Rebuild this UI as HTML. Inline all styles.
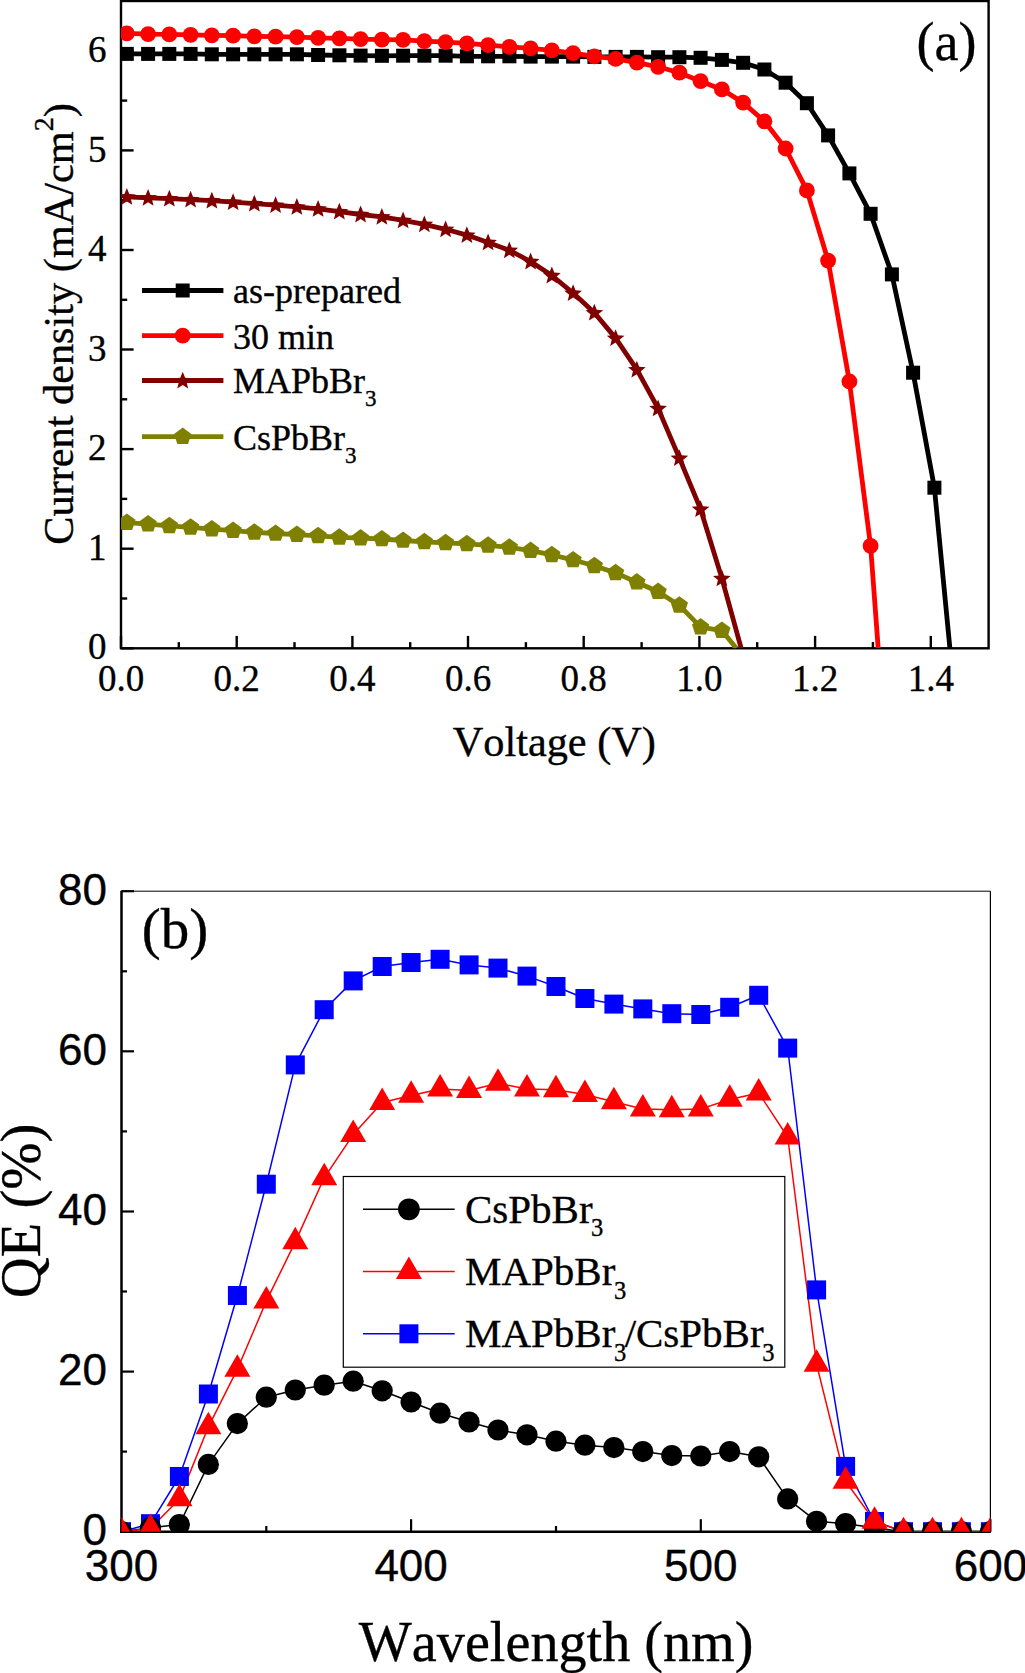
<!DOCTYPE html>
<html><head><meta charset="utf-8"><title>Figure</title>
<style>
html,body{margin:0;padding:0;background:#fff;}
body{width:1025px;height:1673px;position:relative;overflow:hidden;font-family:"Liberation Serif",serif;}
text{font-kerning:none;stroke:#000;stroke-width:0.35px;}
</style></head><body>
<svg width="1025" height="1673" viewBox="0 0 1025 1673" style="position:absolute;left:0;top:0">
<defs><clipPath id="ca"><rect x="121.0" y="1.0" width="867.6" height="647.3"/></clipPath>
<clipPath id="cb"><rect x="121.5" y="891.2" width="869" height="640.5"/></clipPath></defs>
<line x1="121.0" y1="648.3" x2="121.0" y2="635.9" stroke="#000" stroke-width="2.4"/>
<line x1="178.8" y1="648.3" x2="178.8" y2="642.1" stroke="#000" stroke-width="2.4"/>
<line x1="236.7" y1="648.3" x2="236.7" y2="635.9" stroke="#000" stroke-width="2.4"/>
<line x1="294.5" y1="648.3" x2="294.5" y2="642.1" stroke="#000" stroke-width="2.4"/>
<line x1="352.4" y1="648.3" x2="352.4" y2="635.9" stroke="#000" stroke-width="2.4"/>
<line x1="410.2" y1="648.3" x2="410.2" y2="642.1" stroke="#000" stroke-width="2.4"/>
<line x1="468.0" y1="648.3" x2="468.0" y2="635.9" stroke="#000" stroke-width="2.4"/>
<line x1="525.9" y1="648.3" x2="525.9" y2="642.1" stroke="#000" stroke-width="2.4"/>
<line x1="583.7" y1="648.3" x2="583.7" y2="635.9" stroke="#000" stroke-width="2.4"/>
<line x1="641.6" y1="648.3" x2="641.6" y2="642.1" stroke="#000" stroke-width="2.4"/>
<line x1="699.4" y1="648.3" x2="699.4" y2="635.9" stroke="#000" stroke-width="2.4"/>
<line x1="757.2" y1="648.3" x2="757.2" y2="642.1" stroke="#000" stroke-width="2.4"/>
<line x1="815.1" y1="648.3" x2="815.1" y2="635.9" stroke="#000" stroke-width="2.4"/>
<line x1="872.9" y1="648.3" x2="872.9" y2="642.1" stroke="#000" stroke-width="2.4"/>
<line x1="930.8" y1="648.3" x2="930.8" y2="635.9" stroke="#000" stroke-width="2.4"/>
<line x1="121.0" y1="648.3" x2="133.6" y2="648.3" stroke="#000" stroke-width="2.4"/>
<line x1="121.0" y1="598.5" x2="127.2" y2="598.5" stroke="#000" stroke-width="2.4"/>
<line x1="121.0" y1="548.7" x2="133.6" y2="548.7" stroke="#000" stroke-width="2.4"/>
<line x1="121.0" y1="498.9" x2="127.2" y2="498.9" stroke="#000" stroke-width="2.4"/>
<line x1="121.0" y1="449.1" x2="133.6" y2="449.1" stroke="#000" stroke-width="2.4"/>
<line x1="121.0" y1="399.3" x2="127.2" y2="399.3" stroke="#000" stroke-width="2.4"/>
<line x1="121.0" y1="349.5" x2="133.6" y2="349.5" stroke="#000" stroke-width="2.4"/>
<line x1="121.0" y1="299.8" x2="127.2" y2="299.8" stroke="#000" stroke-width="2.4"/>
<line x1="121.0" y1="250.0" x2="133.6" y2="250.0" stroke="#000" stroke-width="2.4"/>
<line x1="121.0" y1="200.2" x2="127.2" y2="200.2" stroke="#000" stroke-width="2.4"/>
<line x1="121.0" y1="150.4" x2="133.6" y2="150.4" stroke="#000" stroke-width="2.4"/>
<line x1="121.0" y1="100.6" x2="127.2" y2="100.6" stroke="#000" stroke-width="2.4"/>
<line x1="121.0" y1="50.8" x2="133.6" y2="50.8" stroke="#000" stroke-width="2.4"/>
<rect x="121.0" y="1.0" width="867.6" height="647.3" fill="none" stroke="#000" stroke-width="2.4"/>
<g clip-path="url(#ca)">
<polyline points="126.8,53.9 148.1,53.9 169.3,53.9 190.6,53.9 211.8,54.3 233.1,54.3 254.3,54.3 275.6,54.3 296.9,54.3 318.1,55.0 339.4,55.3 360.6,55.6 381.9,55.8 403.1,55.7 424.4,55.7 445.6,55.7 466.9,56.3 488.1,56.3 509.4,56.3 530.6,56.6 551.9,56.6 573.1,56.6 594.4,56.9 615.6,56.9 636.9,56.9 658.1,57.2 679.4,57.2 700.6,57.8 721.9,59.9 743.1,62.8 764.4,69.5 785.6,82.7 806.9,103.2 828.1,135.4 849.4,173.4 870.6,213.8 891.9,274.4 913.1,372.7 934.4,487.7 949.9,648.3" fill="none" stroke="#000" stroke-width="4.8" stroke-linejoin="round"/>
<rect x="119.8" y="46.9" width="14.0" height="14.0" fill="#000"/>
<rect x="141.1" y="46.9" width="14.0" height="14.0" fill="#000"/>
<rect x="162.3" y="46.9" width="14.0" height="14.0" fill="#000"/>
<rect x="183.6" y="46.9" width="14.0" height="14.0" fill="#000"/>
<rect x="204.8" y="47.3" width="14.0" height="14.0" fill="#000"/>
<rect x="226.1" y="47.3" width="14.0" height="14.0" fill="#000"/>
<rect x="247.3" y="47.3" width="14.0" height="14.0" fill="#000"/>
<rect x="268.6" y="47.3" width="14.0" height="14.0" fill="#000"/>
<rect x="289.9" y="47.3" width="14.0" height="14.0" fill="#000"/>
<rect x="311.1" y="48.0" width="14.0" height="14.0" fill="#000"/>
<rect x="332.4" y="48.3" width="14.0" height="14.0" fill="#000"/>
<rect x="353.6" y="48.6" width="14.0" height="14.0" fill="#000"/>
<rect x="374.9" y="48.8" width="14.0" height="14.0" fill="#000"/>
<rect x="396.1" y="48.7" width="14.0" height="14.0" fill="#000"/>
<rect x="417.4" y="48.7" width="14.0" height="14.0" fill="#000"/>
<rect x="438.6" y="48.7" width="14.0" height="14.0" fill="#000"/>
<rect x="459.9" y="49.3" width="14.0" height="14.0" fill="#000"/>
<rect x="481.1" y="49.3" width="14.0" height="14.0" fill="#000"/>
<rect x="502.4" y="49.3" width="14.0" height="14.0" fill="#000"/>
<rect x="523.6" y="49.6" width="14.0" height="14.0" fill="#000"/>
<rect x="544.9" y="49.6" width="14.0" height="14.0" fill="#000"/>
<rect x="566.1" y="49.6" width="14.0" height="14.0" fill="#000"/>
<rect x="587.4" y="49.9" width="14.0" height="14.0" fill="#000"/>
<rect x="608.6" y="49.9" width="14.0" height="14.0" fill="#000"/>
<rect x="629.9" y="49.9" width="14.0" height="14.0" fill="#000"/>
<rect x="651.1" y="50.2" width="14.0" height="14.0" fill="#000"/>
<rect x="672.4" y="50.2" width="14.0" height="14.0" fill="#000"/>
<rect x="693.6" y="50.8" width="14.0" height="14.0" fill="#000"/>
<rect x="714.9" y="52.9" width="14.0" height="14.0" fill="#000"/>
<rect x="736.1" y="55.8" width="14.0" height="14.0" fill="#000"/>
<rect x="757.4" y="62.5" width="14.0" height="14.0" fill="#000"/>
<rect x="778.6" y="75.7" width="14.0" height="14.0" fill="#000"/>
<rect x="799.9" y="96.2" width="14.0" height="14.0" fill="#000"/>
<rect x="821.1" y="128.4" width="14.0" height="14.0" fill="#000"/>
<rect x="842.4" y="166.4" width="14.0" height="14.0" fill="#000"/>
<rect x="863.6" y="206.8" width="14.0" height="14.0" fill="#000"/>
<rect x="884.9" y="267.4" width="14.0" height="14.0" fill="#000"/>
<rect x="906.1" y="365.7" width="14.0" height="14.0" fill="#000"/>
<rect x="927.4" y="480.7" width="14.0" height="14.0" fill="#000"/>
<polyline points="126.8,33.4 148.1,34.2 169.3,34.4 190.6,34.8 211.8,35.3 233.1,35.7 254.3,36.3 275.6,36.7 296.9,37.1 318.1,37.9 339.4,38.3 360.6,39.1 381.9,39.6 403.1,39.9 424.4,41.1 445.6,42.2 466.9,43.4 488.1,45.2 509.4,46.9 530.6,48.4 551.9,50.4 573.1,53.1 594.4,56.3 615.6,58.9 636.9,62.7 658.1,66.8 679.4,72.7 700.6,81.2 721.9,89.4 743.1,102.6 764.4,121.3 785.6,148.5 806.9,190.4 828.1,260.6 849.4,381.5 870.6,545.9 878.2,648.3" fill="none" stroke="#ff0000" stroke-width="4.8" stroke-linejoin="round"/>
<circle cx="126.8" cy="33.4" r="7.9" fill="#ff0000"/>
<circle cx="148.1" cy="34.2" r="7.9" fill="#ff0000"/>
<circle cx="169.3" cy="34.4" r="7.9" fill="#ff0000"/>
<circle cx="190.6" cy="34.8" r="7.9" fill="#ff0000"/>
<circle cx="211.8" cy="35.3" r="7.9" fill="#ff0000"/>
<circle cx="233.1" cy="35.7" r="7.9" fill="#ff0000"/>
<circle cx="254.3" cy="36.3" r="7.9" fill="#ff0000"/>
<circle cx="275.6" cy="36.7" r="7.9" fill="#ff0000"/>
<circle cx="296.9" cy="37.1" r="7.9" fill="#ff0000"/>
<circle cx="318.1" cy="37.9" r="7.9" fill="#ff0000"/>
<circle cx="339.4" cy="38.3" r="7.9" fill="#ff0000"/>
<circle cx="360.6" cy="39.1" r="7.9" fill="#ff0000"/>
<circle cx="381.9" cy="39.6" r="7.9" fill="#ff0000"/>
<circle cx="403.1" cy="39.9" r="7.9" fill="#ff0000"/>
<circle cx="424.4" cy="41.1" r="7.9" fill="#ff0000"/>
<circle cx="445.6" cy="42.2" r="7.9" fill="#ff0000"/>
<circle cx="466.9" cy="43.4" r="7.9" fill="#ff0000"/>
<circle cx="488.1" cy="45.2" r="7.9" fill="#ff0000"/>
<circle cx="509.4" cy="46.9" r="7.9" fill="#ff0000"/>
<circle cx="530.6" cy="48.4" r="7.9" fill="#ff0000"/>
<circle cx="551.9" cy="50.4" r="7.9" fill="#ff0000"/>
<circle cx="573.1" cy="53.1" r="7.9" fill="#ff0000"/>
<circle cx="594.4" cy="56.3" r="7.9" fill="#ff0000"/>
<circle cx="615.6" cy="58.9" r="7.9" fill="#ff0000"/>
<circle cx="636.9" cy="62.7" r="7.9" fill="#ff0000"/>
<circle cx="658.1" cy="66.8" r="7.9" fill="#ff0000"/>
<circle cx="679.4" cy="72.7" r="7.9" fill="#ff0000"/>
<circle cx="700.6" cy="81.2" r="7.9" fill="#ff0000"/>
<circle cx="721.9" cy="89.4" r="7.9" fill="#ff0000"/>
<circle cx="743.1" cy="102.6" r="7.9" fill="#ff0000"/>
<circle cx="764.4" cy="121.3" r="7.9" fill="#ff0000"/>
<circle cx="785.6" cy="148.5" r="7.9" fill="#ff0000"/>
<circle cx="806.9" cy="190.4" r="7.9" fill="#ff0000"/>
<circle cx="828.1" cy="260.6" r="7.9" fill="#ff0000"/>
<circle cx="849.4" cy="381.5" r="7.9" fill="#ff0000"/>
<circle cx="870.6" cy="545.9" r="7.9" fill="#ff0000"/>
<polyline points="126.8,196.9 148.1,197.8 169.3,198.7 190.6,199.6 211.8,200.7 233.1,202.2 254.3,203.7 275.6,205.1 296.9,206.9 318.1,208.9 339.4,211.6 360.6,214.5 381.9,216.8 403.1,220.4 424.4,224.3 445.6,229.3 466.9,235.1 488.1,242.4 509.4,250.3 530.6,261.5 551.9,275.5 573.1,293.1 594.4,312.7 615.6,338.1 636.9,369.7 658.1,408.4 679.4,458.1 700.6,509.2 721.9,578.4 741.2,648.3" fill="none" stroke="#800000" stroke-width="4.8" stroke-linejoin="round"/>
<path d="M126.85,188.00 L129.26,193.98 L135.69,194.43 L130.75,198.57 L132.32,204.82 L126.85,201.40 L121.38,204.82 L122.95,198.57 L118.01,194.43 L124.44,193.98Z" fill="#800000"/>
<path d="M148.10,188.90 L150.51,194.88 L156.94,195.33 L152.00,199.47 L153.57,205.72 L148.10,202.30 L142.63,205.72 L144.20,199.47 L139.26,195.33 L145.69,194.88Z" fill="#800000"/>
<path d="M169.35,189.80 L171.76,195.78 L178.19,196.23 L173.25,200.37 L174.82,206.62 L169.35,203.20 L163.88,206.62 L165.45,200.37 L160.51,196.23 L166.94,195.78Z" fill="#800000"/>
<path d="M190.60,190.70 L193.01,196.68 L199.44,197.13 L194.50,201.27 L196.07,207.52 L190.60,204.10 L185.13,207.52 L186.70,201.27 L181.76,197.13 L188.19,196.68Z" fill="#800000"/>
<path d="M211.85,191.80 L214.26,197.78 L220.69,198.23 L215.75,202.37 L217.32,208.62 L211.85,205.20 L206.38,208.62 L207.95,202.37 L203.01,198.23 L209.44,197.78Z" fill="#800000"/>
<path d="M233.10,193.30 L235.51,199.28 L241.94,199.73 L237.00,203.87 L238.57,210.12 L233.10,206.70 L227.63,210.12 L229.20,203.87 L224.26,199.73 L230.69,199.28Z" fill="#800000"/>
<path d="M254.35,194.80 L256.76,200.78 L263.19,201.23 L258.25,205.37 L259.82,211.62 L254.35,208.20 L248.88,211.62 L250.45,205.37 L245.51,201.23 L251.94,200.78Z" fill="#800000"/>
<path d="M275.60,196.20 L278.01,202.18 L284.44,202.63 L279.50,206.77 L281.07,213.02 L275.60,209.60 L270.13,213.02 L271.70,206.77 L266.76,202.63 L273.19,202.18Z" fill="#800000"/>
<path d="M296.85,198.00 L299.26,203.98 L305.69,204.43 L300.75,208.57 L302.32,214.82 L296.85,211.40 L291.38,214.82 L292.95,208.57 L288.01,204.43 L294.44,203.98Z" fill="#800000"/>
<path d="M318.10,200.00 L320.51,205.98 L326.94,206.43 L322.00,210.57 L323.57,216.82 L318.10,213.40 L312.63,216.82 L314.20,210.57 L309.26,206.43 L315.69,205.98Z" fill="#800000"/>
<path d="M339.35,202.70 L341.76,208.68 L348.19,209.13 L343.25,213.27 L344.82,219.52 L339.35,216.10 L333.88,219.52 L335.45,213.27 L330.51,209.13 L336.94,208.68Z" fill="#800000"/>
<path d="M360.60,205.60 L363.01,211.58 L369.44,212.03 L364.50,216.17 L366.07,222.42 L360.60,219.00 L355.13,222.42 L356.70,216.17 L351.76,212.03 L358.19,211.58Z" fill="#800000"/>
<path d="M381.85,207.90 L384.26,213.88 L390.69,214.33 L385.75,218.47 L387.32,224.72 L381.85,221.30 L376.38,224.72 L377.95,218.47 L373.01,214.33 L379.44,213.88Z" fill="#800000"/>
<path d="M403.10,211.50 L405.51,217.48 L411.94,217.93 L407.00,222.07 L408.57,228.32 L403.10,224.90 L397.63,228.32 L399.20,222.07 L394.26,217.93 L400.69,217.48Z" fill="#800000"/>
<path d="M424.35,215.40 L426.76,221.38 L433.19,221.83 L428.25,225.97 L429.82,232.22 L424.35,228.80 L418.88,232.22 L420.45,225.97 L415.51,221.83 L421.94,221.38Z" fill="#800000"/>
<path d="M445.60,220.40 L448.01,226.38 L454.44,226.83 L449.50,230.97 L451.07,237.22 L445.60,233.80 L440.13,237.22 L441.70,230.97 L436.76,226.83 L443.19,226.38Z" fill="#800000"/>
<path d="M466.85,226.20 L469.26,232.18 L475.69,232.63 L470.75,236.77 L472.32,243.02 L466.85,239.60 L461.38,243.02 L462.95,236.77 L458.01,232.63 L464.44,232.18Z" fill="#800000"/>
<path d="M488.10,233.50 L490.51,239.48 L496.94,239.93 L492.00,244.07 L493.57,250.32 L488.10,246.90 L482.63,250.32 L484.20,244.07 L479.26,239.93 L485.69,239.48Z" fill="#800000"/>
<path d="M509.35,241.40 L511.76,247.38 L518.19,247.83 L513.25,251.97 L514.82,258.22 L509.35,254.80 L503.88,258.22 L505.45,251.97 L500.51,247.83 L506.94,247.38Z" fill="#800000"/>
<path d="M530.60,252.60 L533.01,258.58 L539.44,259.03 L534.50,263.17 L536.07,269.42 L530.60,266.00 L525.13,269.42 L526.70,263.17 L521.76,259.03 L528.19,258.58Z" fill="#800000"/>
<path d="M551.85,266.60 L554.26,272.58 L560.69,273.03 L555.75,277.17 L557.32,283.42 L551.85,280.00 L546.38,283.42 L547.95,277.17 L543.01,273.03 L549.44,272.58Z" fill="#800000"/>
<path d="M573.10,284.20 L575.51,290.18 L581.94,290.63 L577.00,294.77 L578.57,301.02 L573.10,297.60 L567.63,301.02 L569.20,294.77 L564.26,290.63 L570.69,290.18Z" fill="#800000"/>
<path d="M594.35,303.80 L596.76,309.78 L603.19,310.23 L598.25,314.37 L599.82,320.62 L594.35,317.20 L588.88,320.62 L590.45,314.37 L585.51,310.23 L591.94,309.78Z" fill="#800000"/>
<path d="M615.60,329.20 L618.01,335.18 L624.44,335.63 L619.50,339.77 L621.07,346.02 L615.60,342.60 L610.13,346.02 L611.70,339.77 L606.76,335.63 L613.19,335.18Z" fill="#800000"/>
<path d="M636.85,360.80 L639.26,366.78 L645.69,367.23 L640.75,371.37 L642.32,377.62 L636.85,374.20 L631.38,377.62 L632.95,371.37 L628.01,367.23 L634.44,366.78Z" fill="#800000"/>
<path d="M658.10,399.50 L660.51,405.48 L666.94,405.93 L662.00,410.07 L663.57,416.32 L658.10,412.90 L652.63,416.32 L654.20,410.07 L649.26,405.93 L655.69,405.48Z" fill="#800000"/>
<path d="M679.35,449.20 L681.76,455.18 L688.19,455.63 L683.25,459.77 L684.82,466.02 L679.35,462.60 L673.88,466.02 L675.45,459.77 L670.51,455.63 L676.94,455.18Z" fill="#800000"/>
<path d="M700.60,500.30 L703.01,506.28 L709.44,506.73 L704.50,510.87 L706.07,517.12 L700.60,513.70 L695.13,517.12 L696.70,510.87 L691.76,506.73 L698.19,506.28Z" fill="#800000"/>
<path d="M721.85,569.50 L724.26,575.48 L730.69,575.93 L725.75,580.07 L727.32,586.32 L721.85,582.90 L716.38,586.32 L717.95,580.07 L713.01,575.93 L719.44,575.48Z" fill="#800000"/>
<polyline points="126.8,522.6 148.1,524.1 169.3,525.9 190.6,527.3 211.8,529.1 233.1,530.6 254.3,532.3 275.6,533.5 296.9,534.6 318.1,535.8 339.4,537.3 360.6,538.2 381.9,539.0 403.1,540.5 424.4,541.9 445.6,542.9 466.9,543.9 488.1,545.3 509.4,547.3 530.6,550.7 551.9,554.8 573.1,560.0 594.4,565.8 615.6,572.9 636.9,582.2 658.1,591.7 679.4,605.4 700.6,627.2 721.9,630.6 736.3,648.3" fill="none" stroke="#808000" stroke-width="4.8" stroke-linejoin="round"/>
<path d="M126.85,513.50 L135.50,519.79 L132.20,529.96 L121.50,529.96 L118.20,519.79Z" fill="#808000"/>
<path d="M148.10,515.00 L156.75,521.29 L153.45,531.46 L142.75,531.46 L139.45,521.29Z" fill="#808000"/>
<path d="M169.35,516.80 L178.00,523.09 L174.70,533.26 L164.00,533.26 L160.70,523.09Z" fill="#808000"/>
<path d="M190.60,518.20 L199.25,524.49 L195.95,534.66 L185.25,534.66 L181.95,524.49Z" fill="#808000"/>
<path d="M211.85,520.00 L220.50,526.29 L217.20,536.46 L206.50,536.46 L203.20,526.29Z" fill="#808000"/>
<path d="M233.10,521.50 L241.75,527.79 L238.45,537.96 L227.75,537.96 L224.45,527.79Z" fill="#808000"/>
<path d="M254.35,523.20 L263.00,529.49 L259.70,539.66 L249.00,539.66 L245.70,529.49Z" fill="#808000"/>
<path d="M275.60,524.40 L284.25,530.69 L280.95,540.86 L270.25,540.86 L266.95,530.69Z" fill="#808000"/>
<path d="M296.85,525.50 L305.50,531.79 L302.20,541.96 L291.50,541.96 L288.20,531.79Z" fill="#808000"/>
<path d="M318.10,526.70 L326.75,532.99 L323.45,543.16 L312.75,543.16 L309.45,532.99Z" fill="#808000"/>
<path d="M339.35,528.20 L348.00,534.49 L344.70,544.66 L334.00,544.66 L330.70,534.49Z" fill="#808000"/>
<path d="M360.60,529.10 L369.25,535.39 L365.95,545.56 L355.25,545.56 L351.95,535.39Z" fill="#808000"/>
<path d="M381.85,529.90 L390.50,536.19 L387.20,546.36 L376.50,546.36 L373.20,536.19Z" fill="#808000"/>
<path d="M403.10,531.40 L411.75,537.69 L408.45,547.86 L397.75,547.86 L394.45,537.69Z" fill="#808000"/>
<path d="M424.35,532.80 L433.00,539.09 L429.70,549.26 L419.00,549.26 L415.70,539.09Z" fill="#808000"/>
<path d="M445.60,533.80 L454.25,540.09 L450.95,550.26 L440.25,550.26 L436.95,540.09Z" fill="#808000"/>
<path d="M466.85,534.80 L475.50,541.09 L472.20,551.26 L461.50,551.26 L458.20,541.09Z" fill="#808000"/>
<path d="M488.10,536.20 L496.75,542.49 L493.45,552.66 L482.75,552.66 L479.45,542.49Z" fill="#808000"/>
<path d="M509.35,538.20 L518.00,544.49 L514.70,554.66 L504.00,554.66 L500.70,544.49Z" fill="#808000"/>
<path d="M530.60,541.60 L539.25,547.89 L535.95,558.06 L525.25,558.06 L521.95,547.89Z" fill="#808000"/>
<path d="M551.85,545.70 L560.50,551.99 L557.20,562.16 L546.50,562.16 L543.20,551.99Z" fill="#808000"/>
<path d="M573.10,550.90 L581.75,557.19 L578.45,567.36 L567.75,567.36 L564.45,557.19Z" fill="#808000"/>
<path d="M594.35,556.70 L603.00,562.99 L599.70,573.16 L589.00,573.16 L585.70,562.99Z" fill="#808000"/>
<path d="M615.60,563.80 L624.25,570.09 L620.95,580.26 L610.25,580.26 L606.95,570.09Z" fill="#808000"/>
<path d="M636.85,573.10 L645.50,579.39 L642.20,589.56 L631.50,589.56 L628.20,579.39Z" fill="#808000"/>
<path d="M658.10,582.60 L666.75,588.89 L663.45,599.06 L652.75,599.06 L649.45,588.89Z" fill="#808000"/>
<path d="M679.35,596.30 L688.00,602.59 L684.70,612.76 L674.00,612.76 L670.70,602.59Z" fill="#808000"/>
<path d="M700.60,618.10 L709.25,624.39 L705.95,634.56 L695.25,634.56 L691.95,624.39Z" fill="#808000"/>
<path d="M721.85,621.50 L730.50,627.79 L727.20,637.96 L716.50,637.96 L713.20,627.79Z" fill="#808000"/>
</g>
<text x="121.0" y="690.6" font-family='"Liberation Serif", serif' font-size="37" text-anchor="middle">0.0</text>
<text x="236.7" y="690.6" font-family='"Liberation Serif", serif' font-size="37" text-anchor="middle">0.2</text>
<text x="352.4" y="690.6" font-family='"Liberation Serif", serif' font-size="37" text-anchor="middle">0.4</text>
<text x="468.0" y="690.6" font-family='"Liberation Serif", serif' font-size="37" text-anchor="middle">0.6</text>
<text x="583.7" y="690.6" font-family='"Liberation Serif", serif' font-size="37" text-anchor="middle">0.8</text>
<text x="699.4" y="690.6" font-family='"Liberation Serif", serif' font-size="37" text-anchor="middle">1.0</text>
<text x="815.1" y="690.6" font-family='"Liberation Serif", serif' font-size="37" text-anchor="middle">1.2</text>
<text x="930.8" y="690.6" font-family='"Liberation Serif", serif' font-size="37" text-anchor="middle">1.4</text>
<text x="106.5" y="659.4" font-family='"Liberation Serif", serif' font-size="37" text-anchor="end">0</text>
<text x="106.5" y="559.8" font-family='"Liberation Serif", serif' font-size="37" text-anchor="end">1</text>
<text x="106.5" y="460.2" font-family='"Liberation Serif", serif' font-size="37" text-anchor="end">2</text>
<text x="106.5" y="360.6" font-family='"Liberation Serif", serif' font-size="37" text-anchor="end">3</text>
<text x="106.5" y="261.1" font-family='"Liberation Serif", serif' font-size="37" text-anchor="end">4</text>
<text x="106.5" y="161.5" font-family='"Liberation Serif", serif' font-size="37" text-anchor="end">5</text>
<text x="106.5" y="61.9" font-family='"Liberation Serif", serif' font-size="37" text-anchor="end">6</text>
<text x="554.3" y="755.8" font-family='"Liberation Serif", serif' font-size="42.3" text-anchor="middle">Voltage (V)</text>
<text transform="translate(72.8,324) rotate(-90)" font-family='"Liberation Serif", serif' font-size="42.3" text-anchor="middle">Current density (mA/cm<tspan font-size="28" dy="-20">2</tspan><tspan dy="20">)</tspan></text>
<text x="946.5" y="60" font-family='"Liberation Serif", serif' font-size="54" text-anchor="middle">(a)</text>
<line x1="142.0" y1="290.5" x2="223.4" y2="290.5" stroke="#000" stroke-width="4.8"/>
<rect x="175.7" y="283.5" width="14.0" height="14.0" fill="#000"/>
<text x="233" y="303.4" font-family='"Liberation Serif", serif' font-size="36">as-prepared</text>
<line x1="142.0" y1="335.6" x2="223.4" y2="335.6" stroke="#ff0000" stroke-width="4.8"/>
<circle cx="182.7" cy="335.6" r="7.9" fill="#ff0000"/>
<text x="233" y="348.5" font-family='"Liberation Serif", serif' font-size="36">30 min</text>
<line x1="142.0" y1="380.5" x2="223.4" y2="380.5" stroke="#800000" stroke-width="4.8"/>
<path d="M182.70,371.70 L185.11,377.68 L191.54,378.13 L186.60,382.27 L188.17,388.52 L182.70,385.10 L177.23,388.52 L178.80,382.27 L173.86,378.13 L180.29,377.68Z" fill="#800000"/>
<text x="233" y="393.0" font-family='"Liberation Serif", serif' font-size="36">MAPbBr<tspan font-size="23" dy="13">3</tspan></text>
<line x1="142.0" y1="436.7" x2="223.4" y2="436.7" stroke="#808000" stroke-width="4.8"/>
<path d="M182.70,427.60 L191.35,433.89 L188.05,444.06 L177.35,444.06 L174.05,433.89Z" fill="#808000"/>
<text x="233" y="449.6" font-family='"Liberation Serif", serif' font-size="36">CsPbBr<tspan font-size="23" dy="13">3</tspan></text>
<line x1="121.5" y1="1531.7" x2="121.5" y2="1519.2" stroke="#000" stroke-width="2.2"/>
<line x1="266.3" y1="1531.7" x2="266.3" y2="1526.0" stroke="#000" stroke-width="2.2"/>
<line x1="411.1" y1="1531.7" x2="411.1" y2="1519.2" stroke="#000" stroke-width="2.2"/>
<line x1="556.0" y1="1531.7" x2="556.0" y2="1526.0" stroke="#000" stroke-width="2.2"/>
<line x1="700.8" y1="1531.7" x2="700.8" y2="1519.2" stroke="#000" stroke-width="2.2"/>
<line x1="845.6" y1="1531.7" x2="845.6" y2="1526.0" stroke="#000" stroke-width="2.2"/>
<line x1="990.4" y1="1531.7" x2="990.4" y2="1519.2" stroke="#000" stroke-width="2.2"/>
<line x1="121.5" y1="1531.7" x2="134.0" y2="1531.7" stroke="#000" stroke-width="2.2"/>
<line x1="121.5" y1="1451.6" x2="127.0" y2="1451.6" stroke="#000" stroke-width="2.2"/>
<line x1="121.5" y1="1371.6" x2="134.0" y2="1371.6" stroke="#000" stroke-width="2.2"/>
<line x1="121.5" y1="1291.5" x2="127.0" y2="1291.5" stroke="#000" stroke-width="2.2"/>
<line x1="121.5" y1="1211.5" x2="134.0" y2="1211.5" stroke="#000" stroke-width="2.2"/>
<line x1="121.5" y1="1131.4" x2="127.0" y2="1131.4" stroke="#000" stroke-width="2.2"/>
<line x1="121.5" y1="1051.3" x2="134.0" y2="1051.3" stroke="#000" stroke-width="2.2"/>
<line x1="121.5" y1="971.3" x2="127.0" y2="971.3" stroke="#000" stroke-width="2.2"/>
<line x1="121.5" y1="891.2" x2="134.0" y2="891.2" stroke="#000" stroke-width="2.2"/>
<line x1="121.5" y1="891.2" x2="990.4" y2="891.2" stroke="#000" stroke-width="1"/>
<line x1="990.4" y1="891.2" x2="990.4" y2="1531.7" stroke="#000" stroke-width="1.2"/>
<line x1="121.5" y1="890.7" x2="121.5" y2="1533.0" stroke="#000" stroke-width="2.5"/>
<line x1="120.2" y1="1531.7" x2="990.9" y2="1531.7" stroke="#000" stroke-width="2.5"/>
<g clip-path="url(#cb)">
<polyline points="121.5,1531.7 150.5,1523.7 179.4,1476.5 208.4,1394.0 237.4,1295.5 266.3,1184.2 295.3,1064.9 324.2,1009.7 353.2,980.9 382.2,966.5 411.1,962.5 440.1,959.3 469.1,964.9 498.0,968.1 527.0,976.1 556.0,986.5 584.9,998.5 613.9,1004.1 642.8,1008.9 671.8,1013.7 700.8,1014.5 729.7,1007.3 758.7,995.3 787.7,1048.1 816.6,1289.9 845.6,1466.4 874.5,1521.5 903.5,1531.7 932.5,1531.7 961.4,1531.7 990.4,1531.7" fill="none" stroke="#0000ff" stroke-width="1.5" stroke-linejoin="round"/>
<polyline points="121.5,1531.7 150.5,1527.7 179.4,1524.5 208.4,1464.4 237.4,1423.6 266.3,1397.2 295.3,1390.0 324.2,1385.2 353.2,1381.2 382.2,1390.8 411.1,1402.0 440.1,1413.2 469.1,1422.0 498.0,1430.0 527.0,1434.8 556.0,1441.2 584.9,1445.2 613.9,1447.6 642.8,1451.6 671.8,1455.6 700.8,1456.0 729.7,1451.6 758.7,1456.8 787.7,1498.9 816.6,1521.3 845.6,1523.7 874.5,1527.7 903.5,1531.7 932.5,1531.7 961.4,1531.7 990.4,1531.7" fill="none" stroke="#000" stroke-width="1.5" stroke-linejoin="round"/>
<polyline points="121.5,1531.7 150.5,1528.5 179.4,1498.9 208.4,1426.8 237.4,1369.2 266.3,1301.1 295.3,1241.9 324.2,1177.8 353.2,1134.6 382.2,1102.6 411.1,1095.4 440.1,1089.0 469.1,1090.6 498.0,1083.3 527.0,1089.0 556.0,1089.8 584.9,1094.6 613.9,1101.8 642.8,1109.0 671.8,1109.8 700.8,1109.0 729.7,1099.4 758.7,1093.0 787.7,1137.0 816.6,1364.4 845.6,1481.3 874.5,1521.1 903.5,1531.7 932.5,1531.7 961.4,1531.7 990.4,1531.7" fill="none" stroke="#ff0000" stroke-width="1.5" stroke-linejoin="round"/>
<rect x="112.0" y="1522.2" width="19.0" height="19.0" fill="#0000ff"/>
<rect x="141.0" y="1514.2" width="19.0" height="19.0" fill="#0000ff"/>
<rect x="169.9" y="1467.0" width="19.0" height="19.0" fill="#0000ff"/>
<rect x="198.9" y="1384.5" width="19.0" height="19.0" fill="#0000ff"/>
<rect x="227.9" y="1286.0" width="19.0" height="19.0" fill="#0000ff"/>
<rect x="256.8" y="1174.7" width="19.0" height="19.0" fill="#0000ff"/>
<rect x="285.8" y="1055.4" width="19.0" height="19.0" fill="#0000ff"/>
<rect x="314.7" y="1000.2" width="19.0" height="19.0" fill="#0000ff"/>
<rect x="343.7" y="971.4" width="19.0" height="19.0" fill="#0000ff"/>
<rect x="372.7" y="957.0" width="19.0" height="19.0" fill="#0000ff"/>
<rect x="401.6" y="953.0" width="19.0" height="19.0" fill="#0000ff"/>
<rect x="430.6" y="949.8" width="19.0" height="19.0" fill="#0000ff"/>
<rect x="459.6" y="955.4" width="19.0" height="19.0" fill="#0000ff"/>
<rect x="488.5" y="958.6" width="19.0" height="19.0" fill="#0000ff"/>
<rect x="517.5" y="966.6" width="19.0" height="19.0" fill="#0000ff"/>
<rect x="546.5" y="977.0" width="19.0" height="19.0" fill="#0000ff"/>
<rect x="575.4" y="989.0" width="19.0" height="19.0" fill="#0000ff"/>
<rect x="604.4" y="994.6" width="19.0" height="19.0" fill="#0000ff"/>
<rect x="633.3" y="999.4" width="19.0" height="19.0" fill="#0000ff"/>
<rect x="662.3" y="1004.2" width="19.0" height="19.0" fill="#0000ff"/>
<rect x="691.3" y="1005.0" width="19.0" height="19.0" fill="#0000ff"/>
<rect x="720.2" y="997.8" width="19.0" height="19.0" fill="#0000ff"/>
<rect x="749.2" y="985.8" width="19.0" height="19.0" fill="#0000ff"/>
<rect x="778.2" y="1038.6" width="19.0" height="19.0" fill="#0000ff"/>
<rect x="807.1" y="1280.4" width="19.0" height="19.0" fill="#0000ff"/>
<rect x="836.1" y="1456.9" width="19.0" height="19.0" fill="#0000ff"/>
<rect x="865.0" y="1512.0" width="19.0" height="19.0" fill="#0000ff"/>
<rect x="894.0" y="1522.2" width="19.0" height="19.0" fill="#0000ff"/>
<rect x="923.0" y="1522.2" width="19.0" height="19.0" fill="#0000ff"/>
<rect x="951.9" y="1522.2" width="19.0" height="19.0" fill="#0000ff"/>
<rect x="980.9" y="1522.2" width="19.0" height="19.0" fill="#0000ff"/>
<circle cx="121.5" cy="1531.7" r="10.6" fill="#000"/>
<circle cx="150.5" cy="1527.7" r="10.6" fill="#000"/>
<circle cx="179.4" cy="1524.5" r="10.6" fill="#000"/>
<circle cx="208.4" cy="1464.4" r="10.6" fill="#000"/>
<circle cx="237.4" cy="1423.6" r="10.6" fill="#000"/>
<circle cx="266.3" cy="1397.2" r="10.6" fill="#000"/>
<circle cx="295.3" cy="1390.0" r="10.6" fill="#000"/>
<circle cx="324.2" cy="1385.2" r="10.6" fill="#000"/>
<circle cx="353.2" cy="1381.2" r="10.6" fill="#000"/>
<circle cx="382.2" cy="1390.8" r="10.6" fill="#000"/>
<circle cx="411.1" cy="1402.0" r="10.6" fill="#000"/>
<circle cx="440.1" cy="1413.2" r="10.6" fill="#000"/>
<circle cx="469.1" cy="1422.0" r="10.6" fill="#000"/>
<circle cx="498.0" cy="1430.0" r="10.6" fill="#000"/>
<circle cx="527.0" cy="1434.8" r="10.6" fill="#000"/>
<circle cx="556.0" cy="1441.2" r="10.6" fill="#000"/>
<circle cx="584.9" cy="1445.2" r="10.6" fill="#000"/>
<circle cx="613.9" cy="1447.6" r="10.6" fill="#000"/>
<circle cx="642.8" cy="1451.6" r="10.6" fill="#000"/>
<circle cx="671.8" cy="1455.6" r="10.6" fill="#000"/>
<circle cx="700.8" cy="1456.0" r="10.6" fill="#000"/>
<circle cx="729.7" cy="1451.6" r="10.6" fill="#000"/>
<circle cx="758.7" cy="1456.8" r="10.6" fill="#000"/>
<circle cx="787.7" cy="1498.9" r="10.6" fill="#000"/>
<circle cx="816.6" cy="1521.3" r="10.6" fill="#000"/>
<circle cx="845.6" cy="1523.7" r="10.6" fill="#000"/>
<circle cx="874.5" cy="1527.7" r="10.6" fill="#000"/>
<circle cx="903.5" cy="1531.7" r="10.6" fill="#000"/>
<circle cx="932.5" cy="1531.7" r="10.6" fill="#000"/>
<circle cx="961.4" cy="1531.7" r="10.6" fill="#000"/>
<circle cx="990.4" cy="1531.7" r="10.6" fill="#000"/>
<path d="M121.50,1516.70 L134.50,1539.20 L108.50,1539.20Z" fill="#ff0000"/>
<path d="M150.46,1513.50 L163.46,1536.00 L137.46,1536.00Z" fill="#ff0000"/>
<path d="M179.43,1483.87 L192.43,1506.37 L166.43,1506.37Z" fill="#ff0000"/>
<path d="M208.39,1411.82 L221.39,1434.32 L195.39,1434.32Z" fill="#ff0000"/>
<path d="M237.35,1354.17 L250.35,1376.67 L224.35,1376.67Z" fill="#ff0000"/>
<path d="M266.32,1286.12 L279.32,1308.62 L253.32,1308.62Z" fill="#ff0000"/>
<path d="M295.28,1226.87 L308.28,1249.37 L282.28,1249.37Z" fill="#ff0000"/>
<path d="M324.24,1162.82 L337.24,1185.32 L311.24,1185.32Z" fill="#ff0000"/>
<path d="M353.21,1119.59 L366.21,1142.09 L340.21,1142.09Z" fill="#ff0000"/>
<path d="M382.17,1087.57 L395.17,1110.07 L369.17,1110.07Z" fill="#ff0000"/>
<path d="M411.13,1080.36 L424.13,1102.86 L398.13,1102.86Z" fill="#ff0000"/>
<path d="M440.10,1073.95 L453.10,1096.45 L427.10,1096.45Z" fill="#ff0000"/>
<path d="M469.06,1075.56 L482.06,1098.06 L456.06,1098.06Z" fill="#ff0000"/>
<path d="M498.02,1068.35 L511.02,1090.85 L485.02,1090.85Z" fill="#ff0000"/>
<path d="M526.99,1073.95 L539.99,1096.45 L513.99,1096.45Z" fill="#ff0000"/>
<path d="M555.95,1074.76 L568.95,1097.26 L542.95,1097.26Z" fill="#ff0000"/>
<path d="M584.91,1079.56 L597.91,1102.06 L571.91,1102.06Z" fill="#ff0000"/>
<path d="M613.88,1086.76 L626.88,1109.26 L600.88,1109.26Z" fill="#ff0000"/>
<path d="M642.84,1093.97 L655.84,1116.47 L629.84,1116.47Z" fill="#ff0000"/>
<path d="M671.80,1094.77 L684.80,1117.27 L658.80,1117.27Z" fill="#ff0000"/>
<path d="M700.77,1093.97 L713.77,1116.47 L687.77,1116.47Z" fill="#ff0000"/>
<path d="M729.73,1084.36 L742.73,1106.86 L716.73,1106.86Z" fill="#ff0000"/>
<path d="M758.69,1077.96 L771.69,1100.46 L745.69,1100.46Z" fill="#ff0000"/>
<path d="M787.66,1121.99 L800.66,1144.49 L774.66,1144.49Z" fill="#ff0000"/>
<path d="M816.62,1349.37 L829.62,1371.87 L803.62,1371.87Z" fill="#ff0000"/>
<path d="M845.58,1466.26 L858.58,1488.76 L832.58,1488.76Z" fill="#ff0000"/>
<path d="M874.55,1506.13 L887.55,1528.63 L861.55,1528.63Z" fill="#ff0000"/>
<path d="M903.51,1516.70 L916.51,1539.20 L890.51,1539.20Z" fill="#ff0000"/>
<path d="M932.47,1516.70 L945.47,1539.20 L919.47,1539.20Z" fill="#ff0000"/>
<path d="M961.44,1516.70 L974.44,1539.20 L948.44,1539.20Z" fill="#ff0000"/>
<path d="M990.40,1516.70 L1003.40,1539.20 L977.40,1539.20Z" fill="#ff0000"/>
</g>
<text x="121.5" y="1581" font-family='"Liberation Sans", sans-serif' font-size="44" text-anchor="middle">300</text>
<text x="411.1" y="1581" font-family='"Liberation Sans", sans-serif' font-size="44" text-anchor="middle">400</text>
<text x="700.8" y="1581" font-family='"Liberation Sans", sans-serif' font-size="44" text-anchor="middle">500</text>
<text x="990.4" y="1581" font-family='"Liberation Sans", sans-serif' font-size="44" text-anchor="middle">600</text>
<text x="107" y="1545.4" font-family='"Liberation Sans", sans-serif' font-size="44" text-anchor="end">0</text>
<text x="107" y="1385.3" font-family='"Liberation Sans", sans-serif' font-size="44" text-anchor="end">20</text>
<text x="107" y="1225.2" font-family='"Liberation Sans", sans-serif' font-size="44" text-anchor="end">40</text>
<text x="107" y="1065.0" font-family='"Liberation Sans", sans-serif' font-size="44" text-anchor="end">60</text>
<text x="107" y="904.9" font-family='"Liberation Sans", sans-serif' font-size="44" text-anchor="end">80</text>
<text x="556.2" y="1661.3" font-family='"Liberation Serif", serif' font-size="56.2" text-anchor="middle">Wavelength (nm)</text>
<text transform="translate(39.8,1211) rotate(-90)" font-family='"Liberation Serif", serif' font-size="56.7" text-anchor="middle">QE (%)</text>
<text x="175" y="947.5" font-family='"Liberation Serif", serif' font-size="57" text-anchor="middle">(b)</text>
<rect x="343.3" y="1176.5" width="441.5" height="190.7" fill="#fff" stroke="#000" stroke-width="1.2"/>
<line x1="363" y1="1209.3" x2="454.7" y2="1209.3" stroke="#000" stroke-width="1.5"/>
<circle cx="408.9" cy="1209.3" r="10.9" fill="#000"/>
<text x="465" y="1222.6" font-family='"Liberation Serif", serif' font-size="41">CsPbBr<tspan font-size="24.5" dx="-1.5" dy="13.7">3</tspan></text>
<line x1="363" y1="1271.5" x2="454.7" y2="1271.5" stroke="#ff0000" stroke-width="1.5"/>
<path d="M408.90,1256.50 L421.90,1279.00 L395.90,1279.00Z" fill="#ff0000"/>
<text x="465" y="1284.8" font-family='"Liberation Serif", serif' font-size="41">MAPbBr<tspan font-size="24.5" dx="-1.5" dy="13.7">3</tspan></text>
<line x1="363" y1="1333.8" x2="454.7" y2="1333.8" stroke="#0000ff" stroke-width="1.5"/>
<rect x="399.4" y="1324.3" width="19.0" height="19.0" fill="#0000ff"/>
<text x="465" y="1347.1" font-family='"Liberation Serif", serif' font-size="41">MAPbBr<tspan font-size="24.5" dx="-1.5" dy="13.7">3</tspan><tspan dx="-1.5" dy="-13.7">/CsPbBr</tspan><tspan font-size="24.5" dx="-1.5" dy="13.7">3</tspan></text>
</svg>
</body></html>
